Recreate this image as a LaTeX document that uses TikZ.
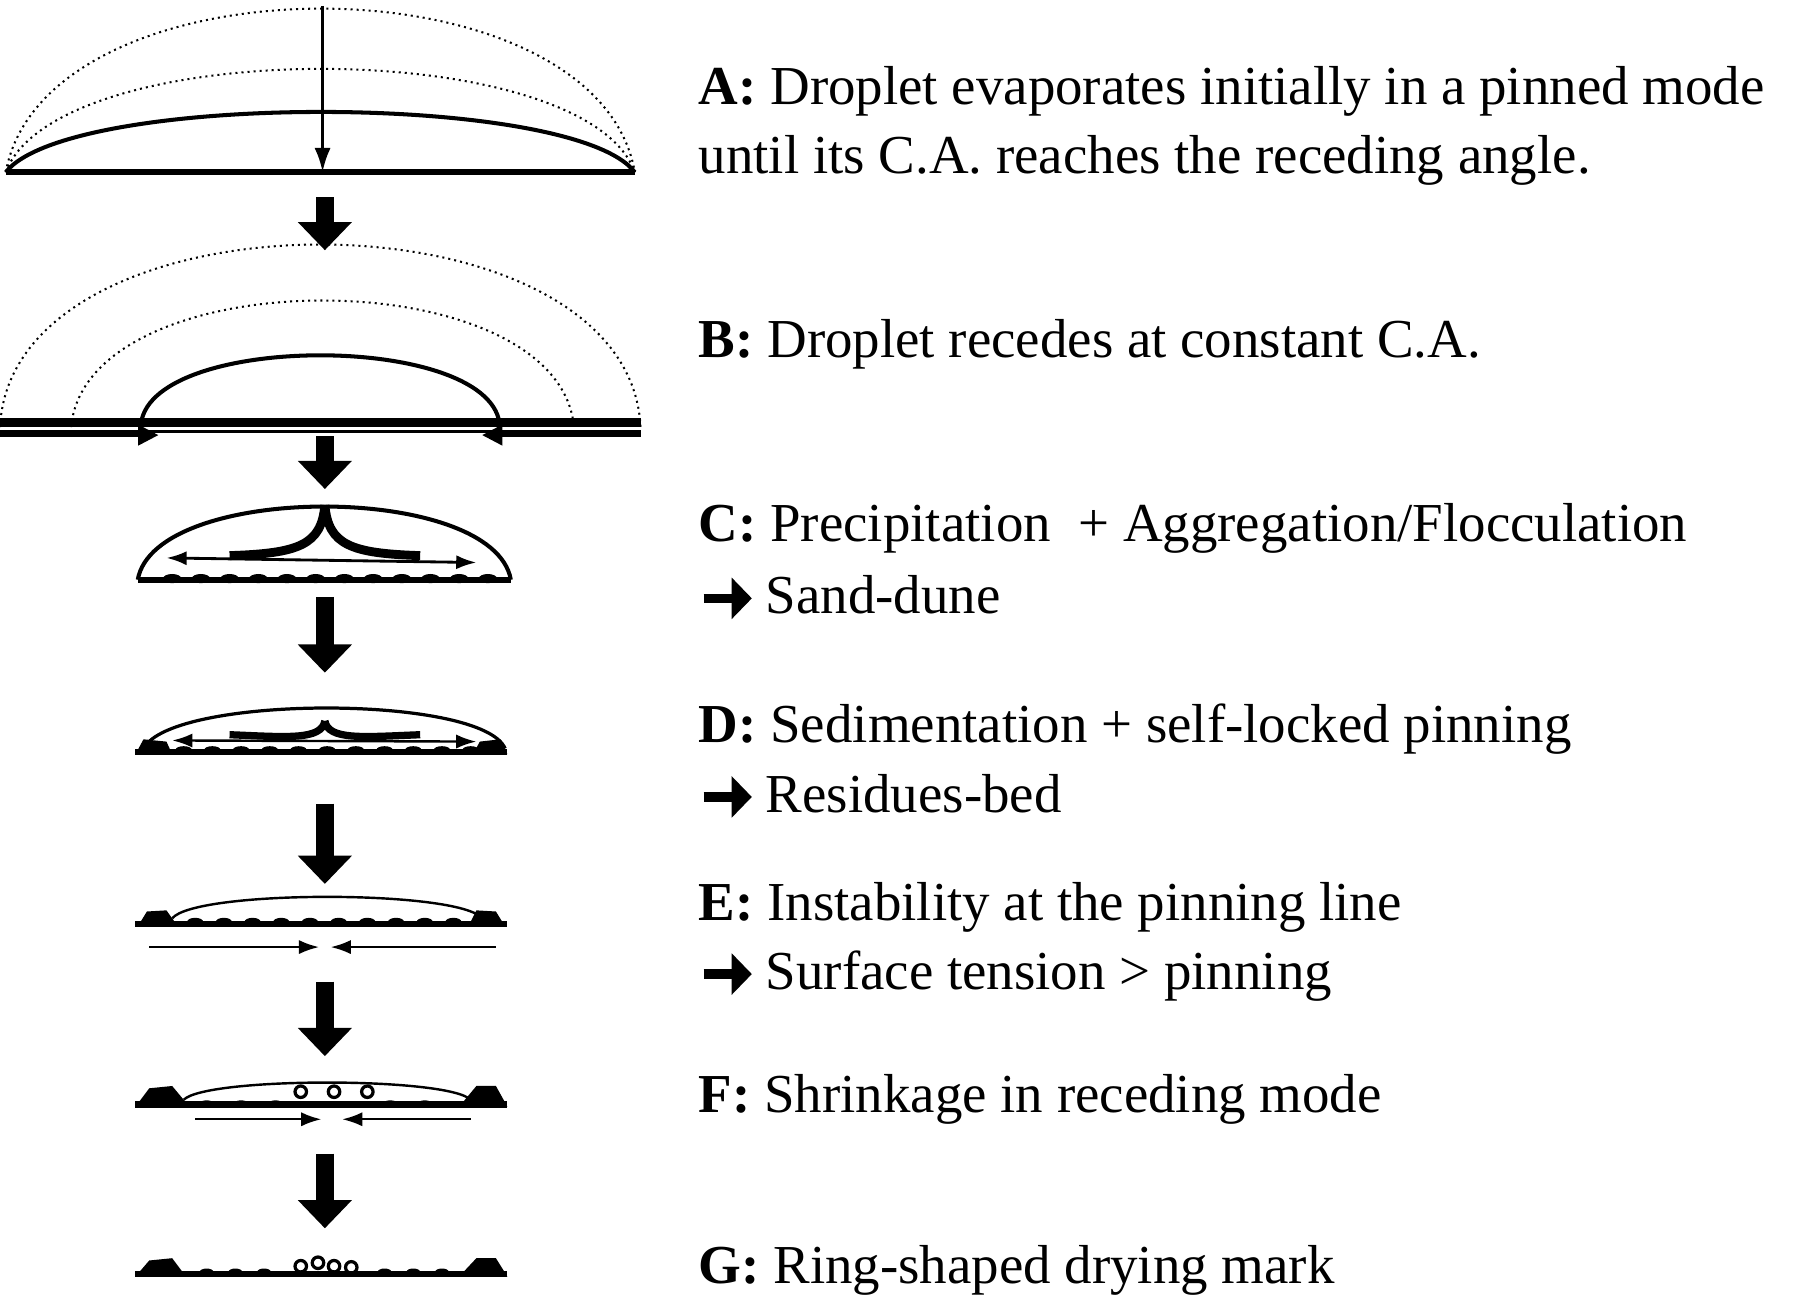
\documentclass[tikz,border=0pt]{standalone}
\usepackage{fontspec}
\setmainfont{Liberation Serif}
\usetikzlibrary{arrows.meta}
\newcommand{\myarr}{\tikz[baseline=-0.6ex,x=1cm,y=1cm]\draw[line width=2.4pt,-{Triangle[length=5pt,width=10pt]}] (0,0)--(0.42,0);\,}
\begin{document}
\begin{tikzpicture}[x=0.01cm,y=-0.01cm,
  txt/.style={anchor=west,font=\fontsize{13.6}{16}\selectfont,inner sep=0},
  big/.style={line width=4.5pt,-{Triangle[length=7pt,width=13pt]}},
  base/.style={line width=1.6pt},
  dot/.style={densely dotted,line width=0.5pt},
  thin/.style={line width=0.6pt,-{Latex[length=5pt,width=3.5pt]}},
  blob/.style={fill=black}]
\useasboundingbox (0,0) rectangle (1568,1132);
% A
\draw[dot] (5,150) .. controls (40,-40) and (520,-40) .. (553,150);
\draw[dot] (5,150) .. controls (50,30) and (510,30) .. (553,150);
\draw[line width=1pt] (5,150) .. controls (60,80) and (500,80) .. (553,150);
\draw[base] (5,150) -- (553,150);
\coordinate (a1) at (281,5); \coordinate (a2) at (281,150);
\draw[line width=0.8pt,-{Latex[length=6pt,width=4pt]}] (a1) -- (a2);
% B
\draw[dot] (0,372) .. controls (10,160) and (548,160) .. (558,372);
\draw[dot] (62,372) .. controls (75,225) and (487,225) .. (500,372);
\draw[line width=1pt] (123,368) .. controls (135,290) and (423,290) .. (435,368);
\draw[line width=2.2pt] (0,368) -- (558,368);
\draw[line width=0.8pt] (0,376) -- (558,376);
\coordinate (b1) at (0,379); \coordinate (b2) at (138,379);
\coordinate (b3) at (558,379); \coordinate (b4) at (420,379);
\draw[line width=0.8pt,-{Triangle[length=5pt,width=5pt]}] (b1) -- (b2);
\draw[line width=0.8pt,-{Triangle[length=5pt,width=5pt]}] (b3) -- (b4);
% C
\draw[line width=1pt] (120,505) .. controls (135,420) and (430,420) .. (445,505);
\draw[base] (120,505) -- (445,505);
\foreach \x in {150,175,200,225,250,275,300,325,350,375,400,425} \fill (\x,504) ellipse (8 and 4);
\draw[line width=2.2pt] (283,440) .. controls (280,475) and (260,482) .. (200,484);
\draw[line width=2.2pt] (283,440) .. controls (286,475) and (306,482) .. (366,484);
\draw[line width=0.7pt,{Latex[length=5pt,width=3.5pt]}-{Latex[length=5pt,width=3.5pt]}] (145,486) -- (415,490);
% D
\draw[line width=0.8pt] (125,652) .. controls (150,605) and (420,605) .. (440,652);
\draw[base] (118,655) -- (442,655);
\fill (118,657) -- (125,644) -- (145,646) -- (150,657) -- cycle;
\fill (442,657) -- (436,644) -- (418,646) -- (412,657) -- cycle;
\foreach \x in {160,185,210,235,260,285,310,335,360,385,410} \fill (\x,653) ellipse (7 and 3);
\draw[line width=1.8pt] (283,628) .. controls (280,645) and (250,642) .. (200,640);
\draw[line width=1.8pt] (283,628) .. controls (286,645) and (316,642) .. (366,640);
\draw[line width=0.6pt,{Latex[length=5pt,width=3.5pt]}-{Latex[length=5pt,width=3.5pt]}] (150,645) -- (415,646);
% E
\draw[line width=0.6pt] (150,800) .. controls (170,775) and (400,775) .. (420,800);
\draw[base] (118,805) -- (442,805);
\fill (120,807) -- (128,794) -- (145,793) -- (155,807) -- cycle;
\fill (440,807) -- (432,794) -- (415,793) -- (408,807) -- cycle;
\foreach \x in {170,195,220,245,270,295,320,345,370,395} \fill (\x,803) ellipse (7 and 3.5);
\coordinate (e1) at (130,825); \coordinate (e2) at (278,825);
\coordinate (e3) at (432,825); \coordinate (e4) at (288,825);
\draw[thin] (e1) -- (e2); \draw[thin] (e3) -- (e4);
% F
\draw[line width=0.6pt] (160,958) .. controls (180,938) and (390,938) .. (410,958);
\draw[base] (118,962) -- (442,962);
\fill (118,964) -- (130,948) -- (150,946) -- (165,964) -- cycle;
\fill (442,964) -- (432,946) -- (415,946) -- (400,964) -- cycle;
\foreach \x in {262,291,320} \draw[line width=0.8pt] (\x,951) circle (5);
\foreach \x in {180,210,240,340,370} \fill (\x,961) ellipse (6 and 2.5);
\coordinate (f1) at (170,975); \coordinate (f2) at (280,975);
\coordinate (f3) at (410,975); \coordinate (f4) at (298,975);
\draw[thin] (f1) -- (f2); \draw[thin] (f3) -- (f4);
% G
\draw[base] (118,1110) -- (442,1110);
\fill (118,1112) -- (130,1098) -- (150,1096) -- (162,1112) -- cycle;
\fill (442,1112) -- (432,1096) -- (415,1096) -- (400,1112) -- cycle;
\foreach \x in {180,205,230,335,360,385} \fill (\x,1108) ellipse (6 and 3);
\foreach \x/\y in {262/1103,277/1100,291/1103,306/1104} \draw[line width=0.8pt] (\x,\y) circle (5);
% big arrows
\foreach \i/\a/\b in {1/172/218,2/380/426,3/520/586,4/700/770,5/855/920,6/1005/1070} {
  \coordinate (s\i) at (283,\a); \coordinate (t\i) at (283,\b);
  \draw[big] (s\i) -- (t\i);}
% text
\node[txt] (tA1) at (608,80) {\textbf{A:} Droplet evaporates initially in a pinned mode};
\node[txt] (tA2) at (608,140) {until its C.A. reaches the receding angle.};
\node[txt] (tB) at (608,300) {\textbf{B:} Droplet recedes at constant C.A.};
\node[txt] (tC1) at (608,460) {\textbf{C:} Precipitation\ \ + Aggregation/Flocculation};
\node[txt] (tC2) at (608,520) {\myarr Sand-dune};
\node[txt] (tD1) at (608,635) {\textbf{D:} Sedimentation + self-locked pinning};
\node[txt] (tD2) at (608,693) {\myarr Residues-bed};
\node[txt] (tE1) at (608,790) {\textbf{E:} Instability at the pinning line};
\node[txt] (tE2) at (608,850) {\myarr Surface tension > pinning};
\node[txt] (tF) at (608,958) {\textbf{F:} Shrinkage in receding mode};
\node[txt] (tG) at (608,1107) {\textbf{G:} Ring-shaped drying mark};
\end{tikzpicture}
\end{document}
